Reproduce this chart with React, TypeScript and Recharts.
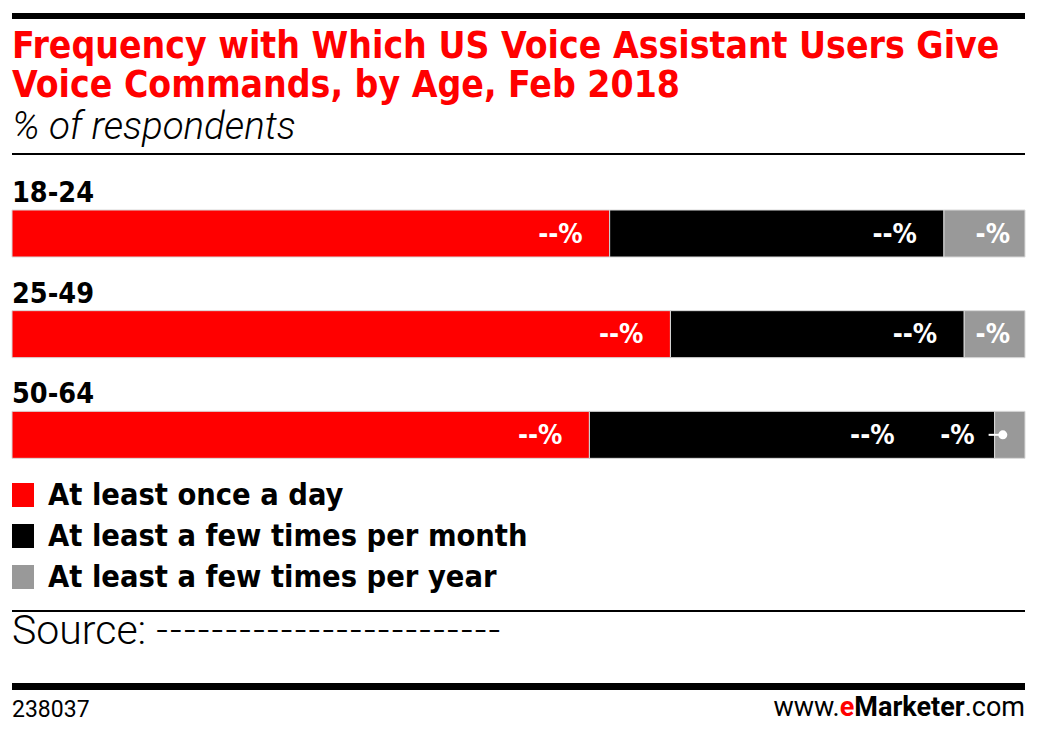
import React from "react";
import { BarChart, Bar, XAxis, YAxis, LabelList } from "recharts";

const ageGroups = ["18-24", "25-49", "50-64"];
const onceADay = [59, 65, 57];
const fewPerMonth = [33, 29, 40];
const fewPerYear = [8, 6, 3];
const seriesNames = [
  "At least once a day",
  "At least a few times per month",
  "At least a few times per year",
];
const seriesColors = ["#ff0000", "#000000", "#999999"];

const data = ageGroups.map((age, i) => ({
  age,
  day: onceADay[i],
  month: fewPerMonth[i],
  year: fewPerYear[i],
}));

const COND = '"DejaVu Sans Condensed", "DejaVu Sans", sans-serif';
const condText = { fontStretch: "condensed" as const };

// age group name above each bar
const ageLabel = (props: any) => {
  const { y, index } = props;
  return (
    <text x={12} y={y - 8} fontFamily={COND} fontWeight="bold" fontSize={28.5} fill="#000" style={condText}>
      {ageGroups[index]}
    </text>
  );
};

const makeLabel = (text: string, pad: number) => (props: any) => {
  const { x, y, width, height, index } = props;
  const cy = y + height / 2 + 9;
  if (width < 40) {
    // small segment: label sits left with a leader
    const lx = x - 20;
    const dot = x + width / 2 - 7;
    return (
      <g>
        <text x={lx} y={cy} textAnchor="end" fontFamily={COND} fontWeight="bold" fontSize={27} fill="#fff" style={condText}>
          {text}
        </text>
        <line x1={lx + 14} x2={dot} y1={y + height / 2} y2={y + height / 2} stroke="#fff" strokeWidth={2} />
        <circle cx={dot} cy={y + height / 2} r={4.5} fill="#fff" />
      </g>
    );
  }
  // make room when the next segment's label is pushed into this one
  const extra = text === "--%" && fewPerYear[index] < 5 && x > 500 ? 73 : 0;
  return (
    <text x={x + width - pad - extra} y={cy} textAnchor="end" fontFamily={COND} fontWeight="bold" fontSize={27} fill="#fff" style={condText}>
      {text}
    </text>
  );
};

export default function App() {
  return (
    <div style={{ position: "absolute", left: 0, top: 0, width: 1038, height: 735, background: "#fff", overflow: "hidden" }}>
      <div style={{ position: "absolute", left: 12, top: 13, width: 1013, height: 6, background: "#000" }} />
      <div
        style={{
          position: "absolute",
          left: 12,
          top: 26,
          width: 1020,
          fontFamily: COND,
          fontStretch: "condensed",
          fontWeight: "bold",
          fontSize: 37,
          lineHeight: "39px",
          color: "#ff0000",
          whiteSpace: "nowrap",
        }}
      >
        Frequency with Which US Voice Assistant Users Give
        <br />
        Voice Commands, by Age, Feb 2018
      </div>
      <div
        style={{
          position: "absolute",
          left: 12,
          top: 106,
          fontFamily: "Roboto, sans-serif",
          fontWeight: 300,
          fontStyle: "italic",
          fontSize: 38.5,
          lineHeight: "40px",
          color: "#000",
        }}
      >
        % of respondents
      </div>
      <div style={{ position: "absolute", left: 12, top: 153, width: 1013, height: 2, background: "#000" }} />

      <div style={{ position: "absolute", left: 0, top: 0 }}>
        <BarChart
          width={1038}
          height={735}
          data={data}
          layout="vertical"
          margin={{ top: 183, right: 13, bottom: 250, left: 12 }}
          barSize={47}
        >
          <XAxis type="number" domain={[0, 100]} hide />
          <YAxis type="category" dataKey="age" hide />
          <Bar dataKey="day" stackId="a" fill={seriesColors[0]} stroke="#d9d9d9" strokeWidth={1} isAnimationActive={false}>
            <LabelList dataKey="age" content={ageLabel} />
            <LabelList dataKey="day" content={makeLabel("--%", 27)} />
          </Bar>
          <Bar dataKey="month" stackId="a" fill={seriesColors[1]} stroke="#d9d9d9" strokeWidth={1} isAnimationActive={false}>
            <LabelList dataKey="month" content={makeLabel("--%", 27)} />
          </Bar>
          <Bar dataKey="year" stackId="a" fill={seriesColors[2]} stroke="#d9d9d9" strokeWidth={1} isAnimationActive={false}>
            <LabelList dataKey="year" content={makeLabel("-%", 15)} />
          </Bar>
        </BarChart>
      </div>

      {seriesNames.map((name, i) => (
        <div key={name} style={{ position: "absolute", left: 12, top: 482 + i * 41, height: 26, display: "flex", alignItems: "center" }}>
          <div style={{ width: 22, height: 24, background: seriesColors[i] }} />
          <div
            style={{
              marginLeft: 14,
              fontFamily: COND,
              fontStretch: "condensed",
              fontWeight: "bold",
              fontSize: 30.5,
              lineHeight: "26px",
              color: "#000",
              whiteSpace: "nowrap",
            }}
          >
            {name}
          </div>
        </div>
      ))}

      <div style={{ position: "absolute", left: 12, top: 610, width: 1013, height: 2, background: "#000" }} />
      <div
        style={{
          position: "absolute",
          left: 12,
          top: 607,
          fontFamily: "Roboto, sans-serif",
          fontWeight: 300,
          fontSize: 41,
          lineHeight: "46px",
          color: "#000",
          whiteSpace: "nowrap",
        }}
      >
        Source: <span style={{ letterSpacing: 2.1 }}>-------------------------</span>
      </div>
      <div style={{ position: "absolute", left: 12, top: 683, width: 1013, height: 7, background: "#000" }} />
      <div style={{ position: "absolute", left: 12, top: 697, fontFamily: "Roboto, sans-serif", fontSize: 23, lineHeight: "26px", color: "#000" }}>
        238037
      </div>
      <div
        style={{
          position: "absolute",
          right: 13,
          top: 692,
          fontFamily: "Roboto, sans-serif",
          fontSize: 27,
          lineHeight: "30px",
          color: "#000",
          whiteSpace: "nowrap",
        }}
      >
        www.<span style={{ color: "#ff0000", fontWeight: "bold" }}>e</span>
        <span style={{ fontWeight: "bold" }}>Marketer</span>.com
      </div>
    </div>
  );
}
